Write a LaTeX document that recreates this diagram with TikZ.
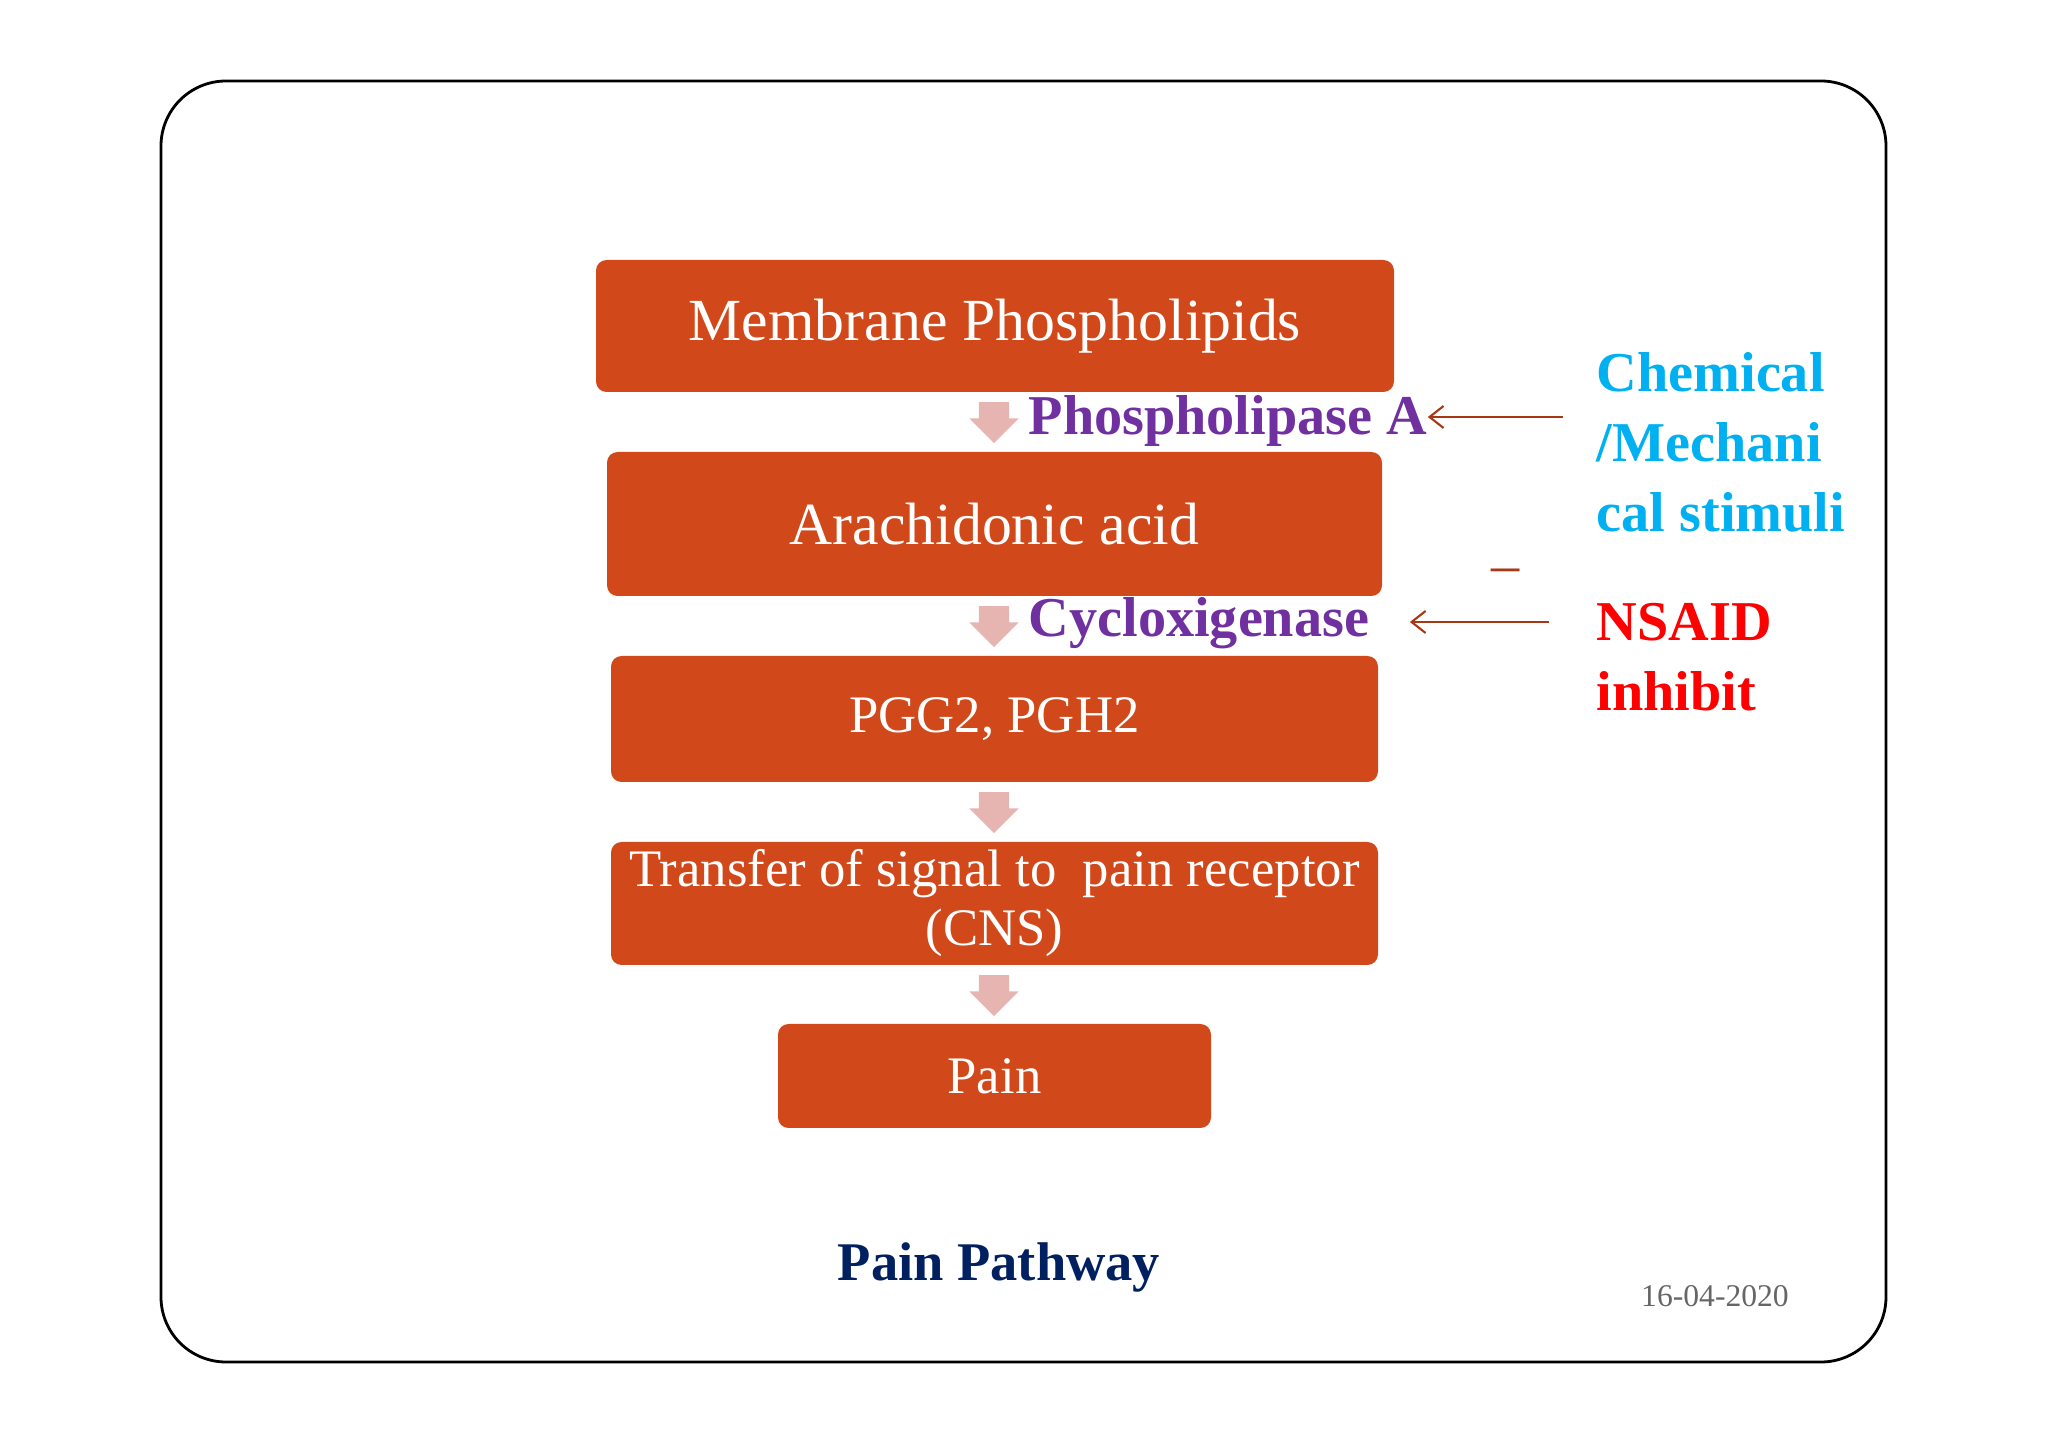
\documentclass[tikz,border=0pt]{standalone}
\usepackage{fontspec}
\setmainfont{Liberation Serif}
\usepackage{tikz}
\usetikzlibrary{
  shapes.arrows,
  arrows.meta,
  positioning
}
\definecolor{burnt}{RGB}{209,73,26}
\definecolor{blush}{RGB}{230,181,178}
\definecolor{grape}{RGB}{112,48,160}
\definecolor{skyblue}{RGB}{0,176,240}
\definecolor{navy}{RGB}{0,32,96}
\definecolor{rust}{RGB}{168,56,20}
\newcommand{\boxbig}{\fontsize{17}{20}\selectfont}
\newcommand{\boxmid}{\fontsize{15}{16.8}\selectfont}
\newcommand{\sidefont}{\fontsize{16}{19.9}\selectfont}

\begin{document}
\begin{tikzpicture}[
  stage/.style={rectangle, fill=burnt, rounded corners=3pt, text=white, align=center, inner sep=0pt},
  flow/.style={single arrow, fill=blush, rotate=-90, minimum height=0.41cm, minimum width=0.48cm, single arrow head extend=0.095cm, single arrow head indent=0pt, inner xsep=0pt, inner ysep=0.145cm},
  enzyme/.style={text=grape, font=\sidefont\bfseries, inner sep=0pt},
  side/.style={font=\sidefont\bfseries, align=left, inner sep=0pt},
  ptr/.style={-{Straight Barb[length=1.4mm, width=2.2mm]}, draw=rust, line width=0.6pt}
]
  \useasboundingbox (0,0) rectangle (20.48,14.48);
  \draw[line width=0.8pt, rounded corners=0.65cm] (1.61,0.86) rectangle (18.86,13.67);

  % pathway boxes
  \node[stage, minimum width=7.98cm, minimum height=1.32cm, font=\boxbig] (membrane) at (9.95,11.22) {Membrane Phospholipids};
  \node[stage, minimum width=7.75cm, minimum height=1.44cm, font=\boxbig] (arachidonic) at (9.945,9.24) {Arachidonic acid};
  \node[stage, minimum width=7.67cm, minimum height=1.26cm, font=\boxmid] (pgg) at (9.945,7.29) {PGG2, PGH2};
  \node[stage, minimum width=7.67cm, minimum height=1.23cm, font=\boxmid] (transfer) at (9.945,5.445) {Transfer of signal to~ pain receptor\\(CNS)};
  \node[stage, minimum width=4.33cm, minimum height=1.04cm, font=\boxmid] (pain) at (9.945,3.72) {Pain};

  % block arrows
  \node[flow] (down1) at (9.94,10.33) {};
  \node[flow] (down2) at (9.94,8.29) {};
  \node[flow] (down3) at (9.94,6.43) {};
  \node[flow] (down4) at (9.94,4.60) {};

  % enzymes
  \node[enzyme, anchor=base west] (plase) at (10.28,10.13) {Phospholipase A};
  \node[enzyme, anchor=base west] (cox) at (10.28,8.11) {Cycloxigenase};

  % side notes
  \node[side, text=skyblue, anchor=north west] (stimuli) at (15.96,10.96) {Chemical\\/Mechani\\cal stimuli};
  \node[side, text=red, anchor=north west] (nsaid) at (15.96,8.45) {NSAID\\inhibit};
  \node[text=rust, font=\sidefont, inner sep=0pt] (minus) at (15.06,8.72) {--};

  \coordinate (stimtail) at (15.63,10.31);
  \coordinate (nsaidtail) at (15.49,8.26);
  \draw[ptr] (stimtail) -- (stimtail -| plase.east);
  \draw[ptr] (nsaidtail) -- ([xshift=0.4cm]cox.east |- nsaidtail);

  \node[font=\fontsize{15.5}{18}\selectfont\bfseries, text=navy, anchor=base] (caption) at (9.99,1.68) {Pain Pathway};
  \node[font=\fontsize{9}{11}\selectfont, text=black!60, anchor=base] (date) at (17.15,1.41) {16-04-2020};
\end{tikzpicture}
\end{document}
